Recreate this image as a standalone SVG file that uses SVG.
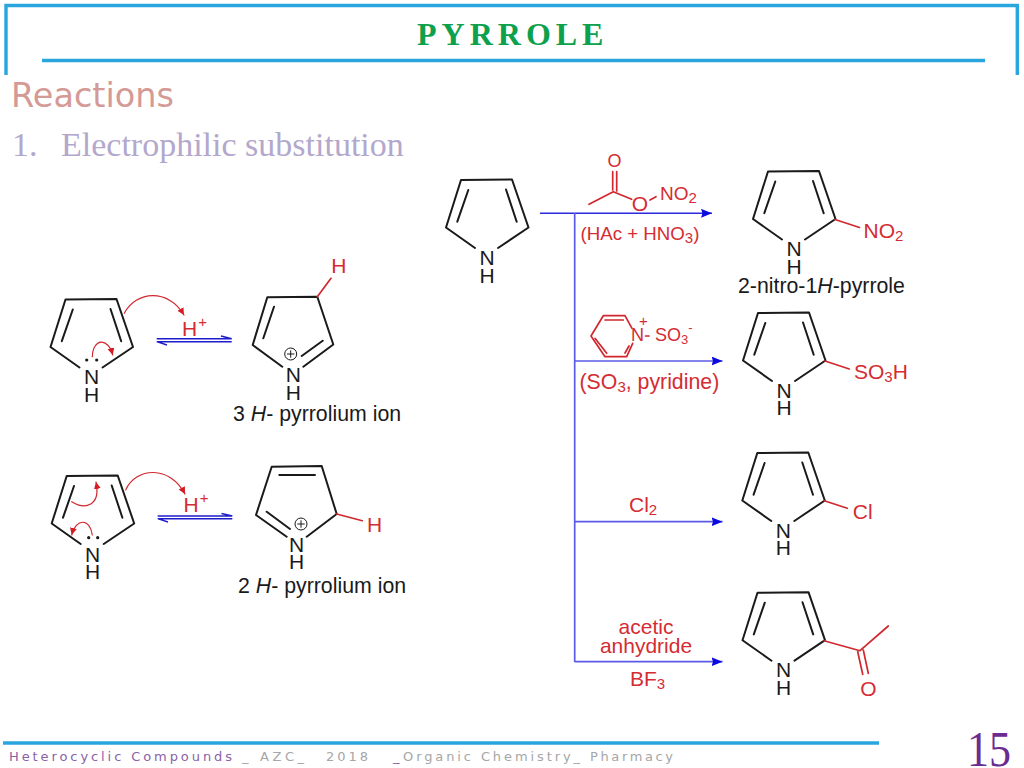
<svg xmlns="http://www.w3.org/2000/svg" width="1024" height="768" viewBox="0 0 1024 768">
<defs>
<style>
.b{fill:none;stroke:#1a1a1a;stroke-width:2;stroke-linecap:round;stroke-linejoin:round}
.r{fill:none;stroke:#d0282e;stroke-width:1.7;stroke-linecap:round;stroke-linejoin:round}
.ra{fill:none;stroke:#d0282e;stroke-width:1.2;stroke-linecap:round}
.k{font:21px "Liberation Sans",Arial,sans-serif;fill:#1a1a1a}
.t{font:21px "Liberation Sans",Arial,sans-serif;fill:#d42c32}
.s{font-size:15px}
.c{text-anchor:middle}
.bar{fill:none;stroke:#29a6de;stroke-width:3.4}
.main{stroke:#5a5ae6;stroke-width:1.7;fill:none}
.arr{stroke:#2a2ae0;stroke-width:1.5;fill:none}
.eq{stroke:#1c1ccc;stroke-width:1.4;fill:none}
.fp{font:13px "DejaVu Sans",sans-serif;fill:#8a62a8}
.fg{font:13px "DejaVu Sans",sans-serif;fill:#a6a6a6}
</style>
<marker id="ah" markerUnits="userSpaceOnUse" markerWidth="12" markerHeight="10" refX="11" refY="4.5" orient="auto"><path d="M0 0L11 4.5L0 9L1.5 4.5Z" fill="#0a0ae0"/></marker>
<marker id="rh" markerUnits="userSpaceOnUse" markerWidth="9" markerHeight="8" refX="7" refY="3.5" orient="auto"><path d="M0 0L7 3.5L0 7Z" fill="#d41c22"/></marker>
<g id="ring"><path class="b" d="M-12 68L-41 47.5L-26 0L25 -.5L41.5 47.5L11 68"/><path class="b" d="M-18.7 10L-29.7 41.7M19 9.5L29.7 41.7"/></g>
</defs>
<rect width="1024" height="768" fill="#fff"/>

<g id="header">
<path class="bar" d="M6 75V5.5H1017.3V75"/>
<path class="bar" d="M42 60.5H985"/>
<text x="417" y="45" style="font:bold 32px 'Liberation Serif',serif;fill:#0da14d;letter-spacing:5px">PYRROLE</text>
<text x="11" y="107" style="font:33.5px 'DejaVu Sans',sans-serif;fill:#d49a96">Reactions</text>
<text x="12" y="156" style="font:34px 'Liberation Serif',serif;fill:#b3a8cc">1.</text>
<text x="61" y="156" style="font:34px 'Liberation Serif',serif;fill:#b3a8cc">Electrophilic substitution</text>
</g>

<g id="connectors">
<path class="arr" d="M540 213.3H712" marker-end="url(#ah)"/>
<path class="main" d="M574.7 213V662"/>
<path class="main" d="M574.7 361H722.5" marker-end="url(#ah)"/>
<path class="main" d="M574.7 521.7H722.5" marker-end="url(#ah)"/>
<path class="main" d="M574.7 661.7H722.5" marker-end="url(#ah)"/>
</g>

<g id="eq1">
<path class="eq" d="M156.7 338.7H231.7L221 336M156.7 341.7H231.7M156.7 341.7L167 345"/>
<path class="ra" d="M124.3 313.3C136 291 168 288 184 315" marker-end="url(#rh)"/>
<path class="ra" d="M92.3 356.7C93 338 108 337 112.7 355" marker-end="url(#rh)"/>
<text class="t" x="182" y="336">H<tspan class="s" dy="-9" dx="1">+</tspan></text>
</g>
<g id="eq2">
<path class="eq" d="M157.7 516H232.3L221.5 513.5M157.7 518.7H232.3M157.7 518.7L168 522"/>
<path class="ra" d="M125.7 490C136 467 170 465 185 494" marker-end="url(#rh)"/>
<path class="ra" d="M71.7 501.7C85 510 101 506 96 482" marker-end="url(#rh)"/>
<path class="ra" d="M92.3 535C90 518 76 518 71.7 535" marker-end="url(#rh)"/>
<text class="t" x="183.5" y="512.3">H<tspan class="s" dy="-9" dx="1">+</tspan></text>
</g>

<g id="pyrrole-lp1" transform="translate(91.5 299.5)"><use href="#ring"/>
<circle cx="-4.8" cy="60.5" r="1.6" fill="#1a1a1a"/><circle cx="5.2" cy="60.5" r="1.6" fill="#1a1a1a"/>
<text class="k c" x="0" y="84">N</text><text class="k c" x="0" y="102">H</text></g>

<g id="pyrrole-lp2" transform="translate(92.7 476)"><use href="#ring"/>
<circle cx="-4" cy="61.7" r="1.6" fill="#1a1a1a"/><circle cx="5" cy="61.7" r="1.6" fill="#1a1a1a"/>
<text class="k c" x="0" y="85.5">N</text><text class="k c" x="0" y="103">H</text></g>

<g id="ion3H">
<path class="b" d="M282.3 366.7L252.7 345L267.3 297.3L317.3 296.7L333.3 344.5L303.3 366.7M274 306.7L263.3 338.3M322.7 340.7L301.7 356"/>
<path class="r" d="M317.3 296.7L331 278.3"/>
<circle cx="290.7" cy="354" r="6" fill="none" stroke="#1a1a1a" stroke-width="1"/><path d="M287 354h7.4M290.7 350.3v7.4" stroke="#1a1a1a" stroke-width="1"/>
<text class="k c" x="293.3" y="382">N</text><text class="k c" x="293.3" y="400">H</text>
<text class="t c" x="338.8" y="272.7">H</text>
<text class="k" x="233" y="420.7" style="font-size:21.3px"><tspan>3 </tspan><tspan font-style="italic">H</tspan><tspan>- pyrrolium ion</tspan></text>
</g>

<g id="ion2H">
<path class="b" d="M286.7 536.7L256 515L271.7 466.7L321.7 466L336.7 514L306.7 536.7M279.3 475H315M266.7 511.7L290 529"/>
<path class="r" d="M336.7 514L362.3 520.7"/>
<circle cx="301" cy="524" r="6" fill="none" stroke="#1a1a1a" stroke-width="1"/><path d="M297.3 524h7.4M301 520.3v7.4" stroke="#1a1a1a" stroke-width="1"/>
<text class="k c" x="296.7" y="552">N</text><text class="k c" x="296.7" y="569.3">H</text>
<text class="t c" x="374.5" y="532.3">H</text>
<text class="k" x="238" y="593.3" style="font-size:21.3px"><tspan>2 </tspan><tspan font-style="italic">H</tspan><tspan>- pyrrolium ion</tspan></text>
</g>

<g id="pyrrole" transform="translate(487 180)"><use href="#ring"/>
<text class="k c" x="0" y="85">N</text><text class="k c" x="0" y="102.5">H</text></g>

<g id="reagent-nitro">
<path class="r" d="M589 204.3L613.3 191.7L631.7 199.3M612.7 190V171.7M616.7 191V171.7M650 200L656 196.7"/>
<text class="t c" x="614.5" y="167" style="font-size:18px">O</text>
<text class="t c" x="640" y="211">O</text>
<text class="t" x="660" y="200" style="font-size:19px">NO<tspan class="s" dy="3">2</tspan></text>
<text class="t" x="580.5" y="240" style="font-size:18.7px">(HAc + HNO<tspan class="s" dy="3">3</tspan><tspan dy="-3">)</tspan></text>
</g>

<g id="nitropyrrole" transform="translate(794 171.5)"><use href="#ring"/>
<text class="k c" x="0" y="84.5">N</text><text class="k c" x="0" y="102">H</text>
<path class="r" d="M41 48L65.5 56"/>
<text class="t" x="69.5" y="66.8">NO<tspan class="s" dy="3">2</tspan></text>
<text class="k" x="-56" y="121.8" style="font-size:21.3px">2-nitro-1<tspan font-style="italic">H</tspan>-pyrrole</text></g>

<g id="reagent-pyridine">
<path class="r" d="M632 328.3L625 315.7H603.3L591 336L605 356.7H626.7L632.7 343.3M605 320H623.3M595 338.3L606.7 353.3M629 346L625 353M645.5 336H649"/>
<text class="t" x="631" y="341" style="font-size:18px">N</text>
<text class="t c" x="643.5" y="326" style="font-size:15px">+</text>
<text class="t" x="655" y="341" style="font-size:18px">SO<tspan dy="3" style="font-size:13px">3</tspan><tspan dy="-12" style="font-size:13px">-</tspan></text>
<text class="t" x="579.5" y="389.3" style="font-size:21.3px">(SO<tspan class="s" dy="3">3</tspan><tspan dy="-3">, pyridine)</tspan></text>
</g>

<g id="sulfonic" transform="translate(784 313)"><use href="#ring"/>
<text class="k c" x="0" y="84.5">N</text><text class="k c" x="0" y="102">H</text>
<path class="r" d="M41 48L65.3 56"/>
<text class="t" x="70" y="66">SO<tspan class="s" dy="3">3</tspan><tspan dy="-3">H</tspan></text></g>

<g id="chloro" transform="translate(783.3 453)"><use href="#ring"/>
<text class="k c" x="0" y="84.5">N</text><text class="k c" x="0" y="102">H</text>
<path class="r" d="M41 47.7L64 55.3"/>
<text class="t" x="69.5" y="66">Cl</text></g>
<text class="t" id="cl2" x="629" y="511.7">Cl<tspan class="s" dy="3">2</tspan></text>

<g id="reagent-acetic">
<text class="t c" x="646" y="634.3">acetic</text>
<text class="t c" x="646" y="653.3">anhydride</text>
<text class="t" x="630" y="686">BF<tspan class="s" dy="3">3</tspan></text>
</g>

<g id="acetyl" transform="translate(783.5 592.7)"><use href="#ring"/>
<text class="k c" x="0" y="84.5">N</text><text class="k c" x="0" y="102">H</text>
<path class="r" d="M40.5 48L76.5 58L104.8 33.3M74.2 59L79.2 81.6M79.8 57.3L84.8 80.6"/>
<text class="t c" x="85" y="103.3">O</text></g>

<g id="footer">
<path d="M3 743H879" stroke="#29a6de" stroke-width="3.4" fill="none"/>
<text class="fp" x="9" y="761" textLength="223">Heterocyclic Compounds</text>
<text class="fg" x="242" y="761">_</text>
<text class="fg" x="260" y="761" textLength="44">AZC_</text>
<text class="fg" x="326" y="761" textLength="42">2018</text>
<text class="fp" x="393" y="761">_</text>
<text class="fg" x="403" y="761" textLength="177">Organic Chemistry_</text>
<text class="fg" x="590" y="761" textLength="83">Pharmacy</text>
<text x="967" y="765.5" textLength="44" lengthAdjust="spacingAndGlyphs" style="font:50px 'Liberation Serif',serif;fill:#6a2c91">15</text>
</g>
</svg>
